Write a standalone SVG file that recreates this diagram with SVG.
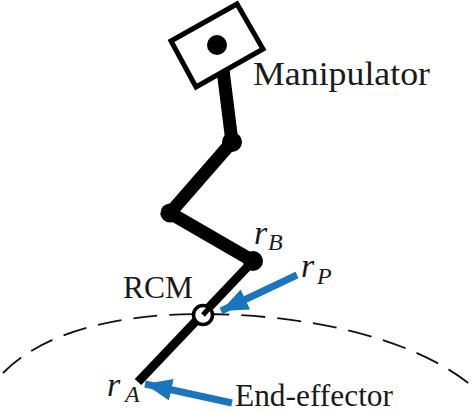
<svg xmlns="http://www.w3.org/2000/svg" width="474" height="413" viewBox="0 0 474 413">
<style>
.t{font-family:"Liberation Serif",serif;fill:#1a1a1a;font-size:31px}
.i{font-style:italic;font-size:34px}
.s{font-style:italic;font-size:24px}
.l{stroke:#000;fill:none;stroke-linecap:butt}
.b{stroke:#1b75bc;stroke-width:7;fill:none}
</style>
<defs><marker id="a" markerUnits="userSpaceOnUse" markerWidth="30" markerHeight="24" refX="27" refY="11" orient="auto"><path d="M0 0L27 11L0 22Z" fill="#1b75bc"/></marker></defs>
<rect width="474" height="413" fill="#fff"/>
<g id="connectors">
<path id="surface" d="M3 373C40 335 110 314 200 314C300 314 410 335 472 386" fill="none" stroke="#111" stroke-width="1.8" stroke-dasharray="24 12"/>
<path class="l" stroke-width="13" d="M223 70L232 142L170 213L253 261"/>
<path class="l" stroke-width="9" d="M253 261L138 382"/>
<path class="b" marker-end="url(#a)" d="M297 275L221 311"/>
<path class="b" marker-end="url(#a)" d="M232 403L145 384"/>
</g>
<g id="manipulator"><path d="M171 41L237 4L263 49L196 87Z" fill="#fff" stroke="#000" stroke-width="5"/><circle cx="217" cy="45" r="10"/></g>
<g id="joint-top"><circle cx="232" cy="142" r="10"/></g>
<g id="joint-mid"><circle cx="170" cy="213" r="9.5"/></g>
<g id="joint-rb"><circle cx="253" cy="261" r="10"/></g>
<g id="rcm"><circle cx="203" cy="315" r="9.5" fill="#fff" stroke="#000" stroke-width="3.5"/><path d="M203 315L211 306" stroke="#000" stroke-width="5"/></g>
<text class="t" x="253" y="85" style="font-size:33px" textLength="177" lengthAdjust="spacingAndGlyphs">Manipulator</text>
<text class="t" x="123" y="298" textLength="70" lengthAdjust="spacingAndGlyphs">RCM</text>
<text class="t" x="235" y="406" textLength="158" lengthAdjust="spacingAndGlyphs">End-effector</text>
<text class="t i" x="254" y="244">r</text><text class="t s" x="268" y="250">B</text>
<text class="t i" x="301" y="277">r</text><text class="t s" x="317" y="284">P</text>
<text class="t i" x="107" y="396">r</text><text class="t s" x="125" y="402">A</text>
</svg>
